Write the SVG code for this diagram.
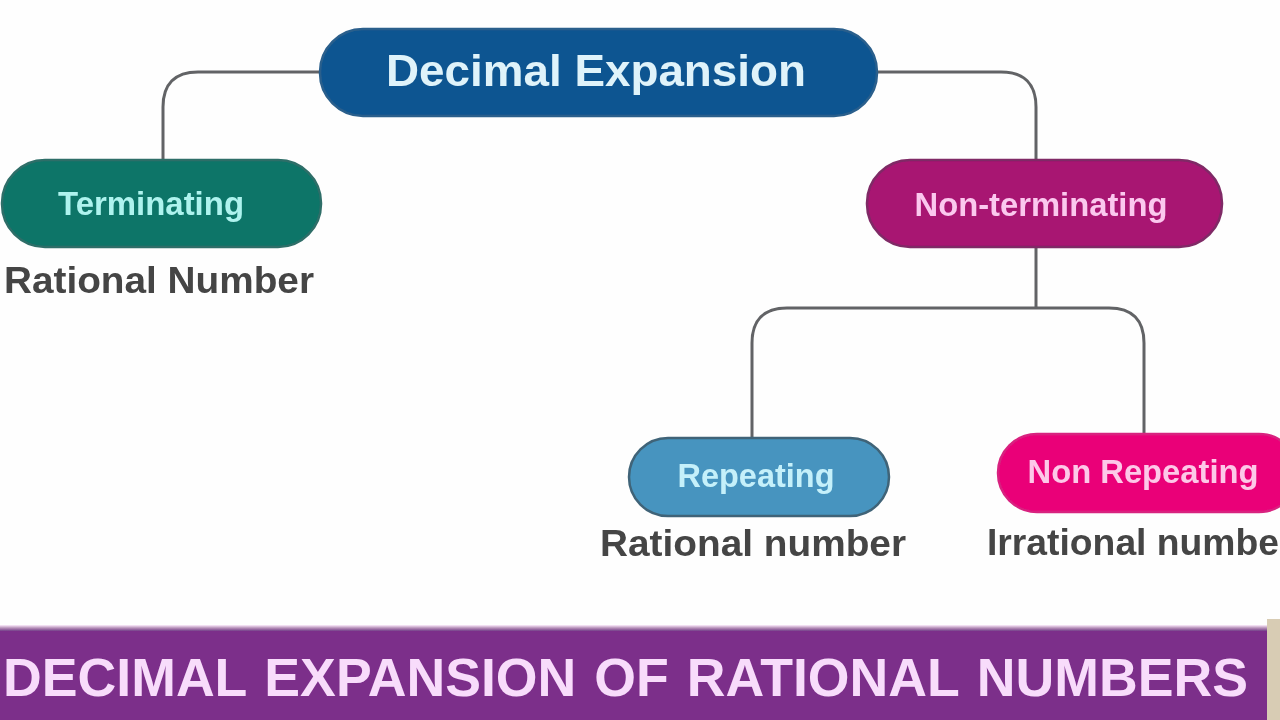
<svg xmlns="http://www.w3.org/2000/svg" width="1280" height="720" viewBox="0 0 1280 720">
<defs>
<filter id="soft" x="-5%" y="-5%" width="110%" height="110%"><feGaussianBlur stdDeviation="0.7"/></filter>
<linearGradient id="edge" x1="0" y1="0" x2="0" y2="1"><stop offset="0" stop-color="#fdeefd"/><stop offset="0.5" stop-color="#b58fb8"/><stop offset="1" stop-color="#75408a"/></linearGradient>
</defs>
<style>
text{font-family:"Liberation Sans",Arial,sans-serif;font-weight:700}
.n{stroke-width:2.5}
.w{text-anchor:middle;font-size:33px}
.l{fill:#454545;font-size:36px}
.c{fill:none;stroke:#626466;stroke-width:3}
.s{filter:url(#soft)}
</style>
<rect width="1280" height="720" fill="#fefefe"/>
<g id="connectors" class="s">
<path class="c" d="M320 72H198C175 72 163 84 163 107V160"/>
<path class="c" d="M877 72H1001C1024 72 1036 84 1036 107V160"/>
<path class="c" d="M1036 246V308"/>
<path class="c" d="M752 438V343C752 320 764 308 787 308H1109C1132 308 1144 320 1144 343V434"/>
</g>
<g id="decimal-expansion" class="s"><rect class="n" x="320" y="29" width="557" height="87" rx="43" fill="#0f5591" stroke="#2a5f8c"/><text class="w" x="596" y="86" fill="#dff3fa" style="font-size:44px" textLength="420" lengthAdjust="spacingAndGlyphs">Decimal Expansion</text></g>
<g id="terminating" class="s"><rect class="n" x="2" y="160" width="319" height="87" rx="43" fill="#0b7468" stroke="#2f6e68"/><text class="w" x="151" y="215" fill="#aef3ee" textLength="186" lengthAdjust="spacingAndGlyphs">Terminating</text><text class="l" x="4" y="293" textLength="310" lengthAdjust="spacingAndGlyphs">Rational Number</text></g>
<g id="non-terminating" class="s"><rect class="n" x="867" y="160" width="355" height="87" rx="43" fill="#a81572" stroke="#7f2a66"/><text class="w" x="1041" y="216" fill="#fbc8ee" textLength="253" lengthAdjust="spacingAndGlyphs">Non-terminating</text></g>
<g id="repeating" class="s"><rect class="n" x="629" y="438" width="260" height="78" rx="39" fill="#4694bf" stroke="#3f6478"/><text class="w" x="756" y="487" fill="#c5f0fa" textLength="157" lengthAdjust="spacingAndGlyphs">Repeating</text><text class="l" x="600" y="556" textLength="306" lengthAdjust="spacingAndGlyphs">Rational number</text></g>
<g id="non-repeating" class="s"><rect class="n" x="998" y="434" width="300" height="78" rx="39" fill="#ea0078" stroke="#d8207f"/><text class="w" x="1143" y="483" fill="#fdc8e8" textLength="231" lengthAdjust="spacingAndGlyphs">Non Repeating</text><text class="l" x="987" y="555" textLength="292" lengthAdjust="spacingAndGlyphs">Irrational numbe</text></g>
<g id="banner"><rect y="628" width="1267" height="92" fill="#7c2f8a"/><rect y="625" width="1267" height="6" fill="url(#edge)"/><text class="s" x="3" y="696" fill="#f8dcfb" style="font-size:54px;word-spacing:3px" textLength="1245" lengthAdjust="spacingAndGlyphs">DECIMAL EXPANSION OF RATIONAL NUMBERS</text><rect x="1267" y="619" width="13" height="101" fill="#d8ccb4"/></g>
</svg>
